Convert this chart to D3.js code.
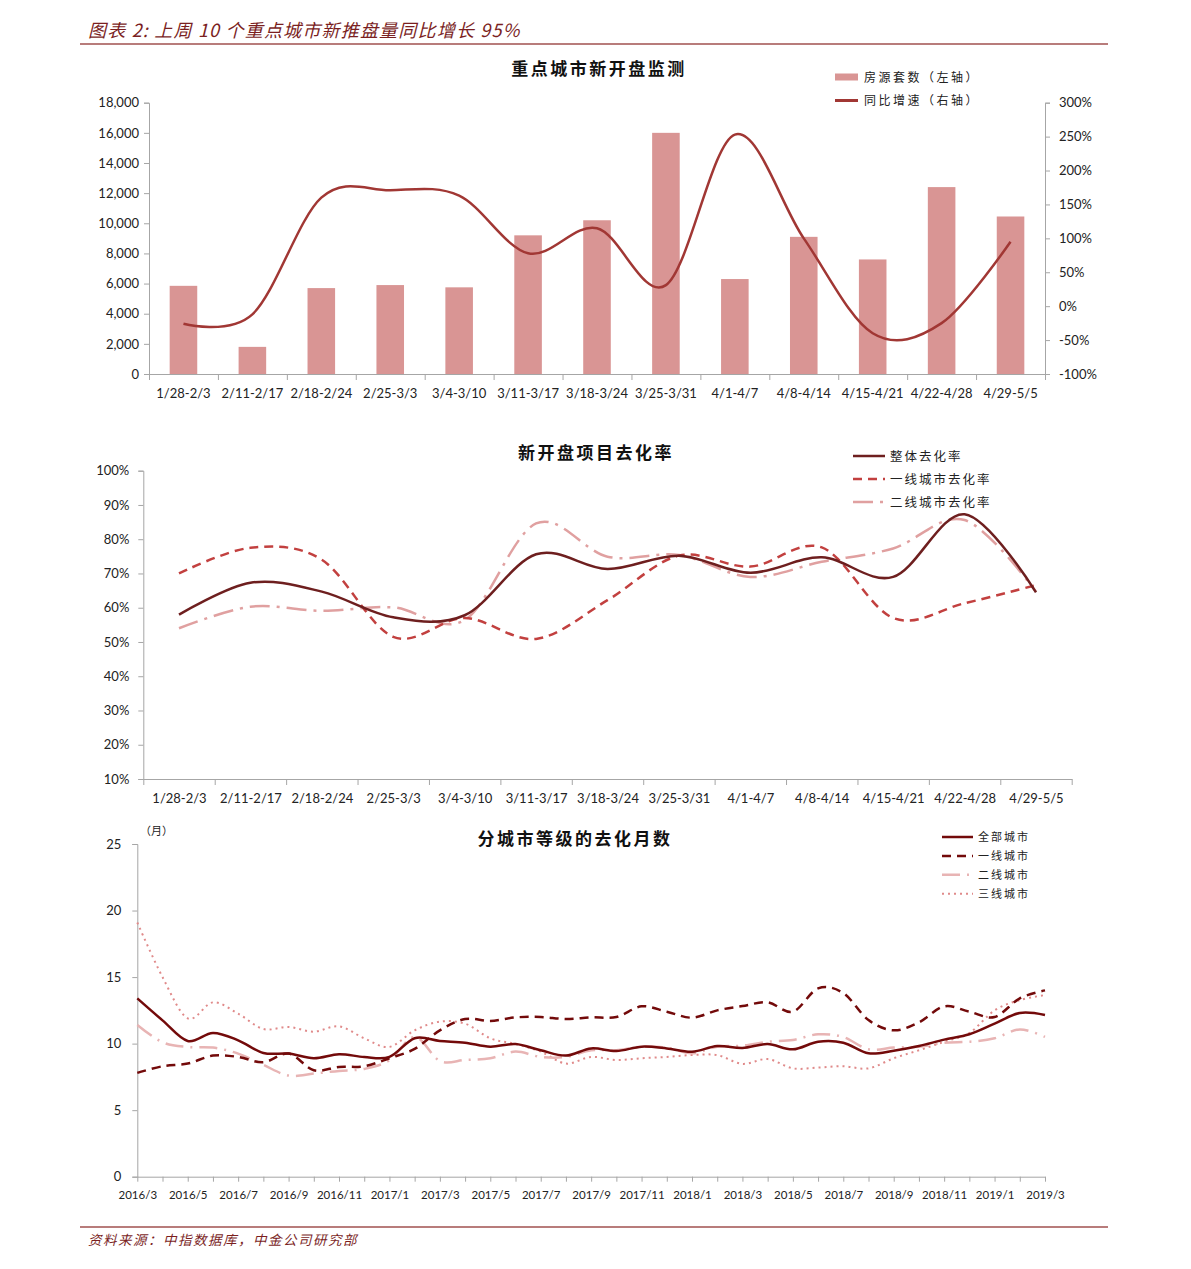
<!DOCTYPE html>
<html>
<head>
<meta charset="utf-8">
<script src="https://cdn.jsdelivr.net/npm/d3@7"></script>
<style>
  body { margin: 0; background: #fff; }
  svg text { font-family: Lato, "Noto Sans CJK SC", sans-serif; }
  .cjk { font-family: "Noto Sans CJK SC", sans-serif !important; }
  .axis path, .axis line { stroke: #a6a6a6; }
  .axis text { fill: #222; }
</style>
</head>
<body>
<svg id="chart" width="1191" height="1269"></svg>
<script>
// chart 1: new supply in key cities
var weeks = ['1/28-2/3','2/11-2/17','2/18-2/24','2/25-3/3','3/4-3/10','3/11-3/17','3/18-3/24',
             '3/25-3/31','4/1-4/7','4/8-4/14','4/15-4/21','4/22-4/28','4/29-5/5'];
var supply = [5850, 1800, 5700, 5900, 5750, 9200, 10200, 16000, 6300, 9100, 7600, 12400, 10450];
var yoy = [-26, -12, 160, 171, 163, 78, 115, 31, 253, 100, -40, -25, 95];

// chart 2: sell-through rate of new projects (%)
var rateAll = [58, 67.3, 64.7, 57.2, 57.8, 75.6, 71.3, 75.2, 70.2, 74.7, 69, 87.3, 64.5];
var rateT1  = [70, 77.5, 74, 51.5, 57, 50.9, 62.2, 75.2, 72, 77.6, 57, 61.3, 66.6];
var rateT2  = [54, 60.3, 59.1, 60.1, 56.4, 84.6, 74.9, 75.4, 69, 73.4, 77.3, 85.6, 64.7];

// chart 3: months of inventory by city tier
var months = ['2016/3','2016/4','2016/5','2016/6','2016/7','2016/8','2016/9','2016/10','2016/11','2016/12',
              '2017/1','2017/2','2017/3','2017/4','2017/5','2017/6','2017/7','2017/8','2017/9','2017/10',
              '2017/11','2017/12','2018/1','2018/2','2018/3','2018/4','2018/5','2018/6','2018/7','2018/8',
              '2018/9','2018/10','2018/11','2018/12','2019/1','2019/2','2019/3'];
var moAll = [13.4, 11.75, 10.2, 10.8, 10.25, 9.3, 9.25, 8.9, 9.2, 9.0, 9.0, 10.4, 10.2,
             10.07, 9.77, 9.97, 9.5, 9.1, 9.64, 9.44, 9.77, 9.64, 9.39, 9.82, 9.68,
             9.97, 9.57, 10.14, 10.07, 9.27, 9.47, 9.82, 10.3, 10.7, 11.5, 12.3, 12.15];
var moT1  = [7.8, 8.3, 8.5, 9.1, 9.0, 8.6, 9.25, 8.0, 8.25, 8.3, 8.9, 9.6, 11.0,
             11.85, 11.7, 11.97, 12.0, 11.85, 11.97, 12.0, 12.8, 12.4, 11.95, 12.5, 12.82,
             13.1, 12.4, 14.15, 13.8, 11.77, 11.0, 11.6, 12.8, 12.4, 12.0, 13.4, 14.0];
var moT2  = [11.4, 10.1, 9.75, 9.7, 9.25, 8.4, 7.6, 7.75, 7.95, 8.1, 8.75, 10.5, 8.7,
             8.77, 8.9, 9.4, 9.0, 9.0, 9.5, 9.5, 9.77, 9.7, 9.27, 9.77, 9.85,
             10.14, 10.27, 10.7, 10.5, 9.57, 9.7, 9.77, 10.07, 10.14, 10.4, 11.07, 10.5];
var moT3  = [19.1, 15.0, 11.9, 13.1, 12.25, 11.1, 11.25, 10.9, 11.3, 10.4, 9.75, 11.0, 11.65,
             11.5, 10.4, 9.97, 9.4, 8.5, 9.0, 8.77, 8.9, 9.0, 9.14, 9.14, 8.48,
             8.84, 8.14, 8.2, 8.3, 8.14, 8.9, 9.5, 10.14, 10.8, 12.5, 13.27, 13.65];

var svg = d3.select('#chart');
var smooth = d3.curveCatmullRom.alpha(0);

// page header and footer
svg.append('text').attr('class', 'cjk').attr('x', 88).attr('y', 37)
  .attr('font-size', 18).attr('font-style', 'italic').attr('fill', '#7b1f1f')
  .attr('letter-spacing', 1.2)
  .text('图表 2:  上周 10 个重点城市新推盘量同比增长 95%');
svg.append('line').attr('x1', 80).attr('x2', 1108).attr('y1', 44).attr('y2', 44)
  .attr('stroke', '#a0504f').attr('stroke-width', 1.5);
svg.append('line').attr('x1', 80).attr('x2', 1108).attr('y1', 1227).attr('y2', 1227)
  .attr('stroke', '#a0504f').attr('stroke-width', 1.5);
svg.append('text').attr('class', 'cjk').attr('x', 88).attr('y', 1245)
  .attr('font-size', 13.5).attr('font-style', 'italic').attr('fill', '#7b1f1f')
  .attr('letter-spacing', 1.5)
  .text('资料来源：中指数据库，中金公司研究部');

function title(txt, cx, y) {
  svg.append('text').attr('class', 'cjk').attr('x', cx).attr('y', y)
    .attr('text-anchor', 'middle').attr('font-size', 17).attr('font-weight', 'bold')
    .attr('letter-spacing', 2.5).attr('fill', '#111').text(txt);
}

function styleAxis(g, size) {
  g.attr('class', 'axis').selectAll('text').attr('font-size', size);
}

// ---------- chart 1 ----------
var c1 = {left: 149, right: 1045, top: 102.7, bottom: 374};
var x1 = d3.scaleBand().domain(weeks).range([c1.left, c1.right]).paddingInner(0.6).paddingOuter(0.3);
var y1 = d3.scaleLinear().domain([0, 18000]).range([c1.bottom, c1.top]);
var y1r = d3.scaleLinear().domain([-100, 300]).range([c1.bottom, c1.top]);

title('重点城市新开盘监测', 599, 75);

svg.append('g').attr('transform', 'translate(' + c1.left + ',0)')
  .call(d3.axisLeft(y1).tickValues(d3.range(0, 18001, 2000)).tickFormat(d3.format(',')).tickSize(5).tickPadding(5))
  .call(styleAxis, 13);
svg.append('g').attr('transform', 'translate(' + c1.right + ',0)')
  .call(d3.axisRight(y1r).tickValues(d3.range(-100, 301, 50)).tickFormat(function(d) { return d + '%'; }).tickSize(5).tickPadding(9))
  .call(styleAxis, 13);

svg.selectAll('.bar1').data(supply).enter().append('rect')
  .attr('x', function(d, i) { return x1(weeks[i]); })
  .attr('y', function(d) { return y1(d); })
  .attr('width', x1.bandwidth())
  .attr('height', function(d) { return y1(0) - y1(d); })
  .attr('fill', '#d99594');

var xb1 = d3.scaleLinear().domain([0, weeks.length]).range([c1.left, c1.right]);
svg.append('g').attr('transform', 'translate(0,' + c1.bottom + ')')
  .call(d3.axisBottom(xb1).tickValues(d3.range(weeks.length + 1)).tickFormat('').tickSize(6).tickSizeOuter(0))
  .call(styleAxis, 13);
svg.append('g').attr('transform', 'translate(0,' + c1.bottom + ')')
  .call(d3.axisBottom(x1).tickSize(0).tickPadding(15))
  .call(styleAxis, 13)
  .select('.domain').remove();

svg.append('path').datum(yoy)
  .attr('fill', 'none').attr('stroke', '#a13734').attr('stroke-width', 2.5)
  .attr('d', d3.line()
    .x(function(d, i) { return x1(weeks[i]) + x1.bandwidth() / 2; })
    .y(function(d) { return y1r(d); })
    .curve(smooth));

// legend 1
svg.append('rect').attr('x', 835).attr('y', 73.5).attr('width', 23).attr('height', 7).attr('fill', '#d99594');
svg.append('text').attr('class', 'cjk').attr('x', 864).attr('y', 81.5).attr('font-size', 12)
  .attr('letter-spacing', 2.5).attr('fill', '#222').text('房源套数（左轴）');
svg.append('line').attr('x1', 835).attr('x2', 858).attr('y1', 100.5).attr('y2', 100.5)
  .attr('stroke', '#a13734').attr('stroke-width', 3);
svg.append('text').attr('class', 'cjk').attr('x', 864).attr('y', 105).attr('font-size', 12)
  .attr('letter-spacing', 2.5).attr('fill', '#222').text('同比增速（右轴）');

// ---------- chart 2 ----------
var c2 = {left: 143.3, right: 1071.7, top: 470.7, bottom: 779};
var x2 = d3.scalePoint().domain(weeks).range([c2.left, c2.right]).padding(0.5);
var y2 = d3.scaleLinear().domain([10, 100]).range([c2.bottom, c2.top]);

title('新开盘项目去化率', 596, 459);

svg.append('g').attr('transform', 'translate(' + c2.left + ',0)')
  .call(d3.axisLeft(y2).tickValues(d3.range(10, 101, 10)).tickFormat(function(d) { return d + '%'; }).tickSize(5).tickPadding(9))
  .call(styleAxis, 13);
var xb2 = d3.scaleLinear().domain([0, weeks.length]).range([c2.left, c2.right]);
svg.append('g').attr('transform', 'translate(0,' + c2.bottom + ')')
  .call(d3.axisBottom(xb2).tickValues(d3.range(weeks.length + 1)).tickFormat('').tickSize(6).tickSizeOuter(0))
  .call(styleAxis, 13);
svg.append('g').attr('transform', 'translate(0,' + c2.bottom + ')')
  .call(d3.axisBottom(x2).tickSize(0).tickPadding(15))
  .call(styleAxis, 13)
  .select('.domain').remove();

var series2 = [
  {name: '整体去化率', values: rateAll, color: '#6e1f1f', dash: null, width: 2.5},
  {name: '一线城市去化率', values: rateT1, color: '#c2403f', dash: '9,6', width: 2.5},
  {name: '二线城市去化率', values: rateT2, color: '#e0a0a0', dash: '20,7,3,7', width: 2.5}
];
var line2 = d3.line()
  .x(function(d, i) { return x2(weeks[i]); })
  .y(function(d) { return y2(d); })
  .curve(smooth);
series2.slice().reverse().forEach(function(s) {
  svg.append('path').datum(s.values)
    .attr('fill', 'none').attr('stroke', s.color).attr('stroke-width', s.width)
    .attr('stroke-dasharray', s.dash).attr('d', line2);
});
series2.forEach(function(s, i) {
  var ly = 456 + i * 23;
  svg.append('line').attr('x1', 853).attr('x2', 885).attr('y1', ly).attr('y2', ly)
    .attr('stroke', s.color).attr('stroke-width', s.width).attr('stroke-dasharray', s.dash);
  svg.append('text').attr('class', 'cjk').attr('x', 890).attr('y', ly + 4.5).attr('font-size', 12.5)
    .attr('letter-spacing', 2).attr('fill', '#222').text(s.name);
});

// ---------- chart 3 ----------
var c3 = {left: 137.3, right: 1045, top: 844, bottom: 1176.7};
var x3 = d3.scalePoint().domain(months).range([c3.left, c3.right]);
var y3 = d3.scaleLinear().domain([0, 25]).range([c3.bottom, c3.top]);

title('分城市等级的去化月数', 575, 845);
svg.append('text').attr('class', 'cjk').attr('x', 140).attr('y', 835).attr('font-size', 11)
  .attr('fill', '#222').text('（月）');

svg.append('g').attr('transform', 'translate(' + c3.left + ',0)')
  .call(d3.axisLeft(y3).tickValues(d3.range(0, 26, 5)).tickSize(5).tickPadding(11))
  .call(styleAxis, 13);
svg.append('g').attr('transform', 'translate(0,' + c3.bottom + ')')
  .call(d3.axisBottom(x3).tickSize(5).tickSizeOuter(0).tickPadding(9)
    .tickFormat(function(d, i) { return i % 2 === 0 ? d : ''; }))
  .call(styleAxis, 11.5);

var series3 = [
  {name: '全部城市', values: moAll, color: '#730a0a', dash: null, width: 2.5},
  {name: '一线城市', values: moT1, color: '#730a0a', dash: '9,6', width: 2.5},
  {name: '二线城市', values: moT2, color: '#e8b4b4', dash: '18,7,2,7', width: 2.5},
  {name: '三线城市', values: moT3, color: '#e08a8a', dash: '2,4', width: 2}
];
var line3 = d3.line()
  .x(function(d, i) { return x3(months[i]); })
  .y(function(d) { return y3(d); })
  .curve(smooth);
series3.slice().reverse().forEach(function(s) {
  svg.append('path').datum(s.values)
    .attr('fill', 'none').attr('stroke', s.color).attr('stroke-width', s.width)
    .attr('stroke-dasharray', s.dash).attr('d', line3);
});
series3.forEach(function(s, i) {
  var ly = 837 + i * 18.9;
  svg.append('line').attr('x1', 942).attr('x2', 973).attr('y1', ly).attr('y2', ly)
    .attr('stroke', s.color).attr('stroke-width', s.width).attr('stroke-dasharray', s.dash);
  svg.append('text').attr('class', 'cjk').attr('x', 978).attr('y', ly + 4).attr('font-size', 11)
    .attr('letter-spacing', 2).attr('fill', '#222').text(s.name);
});
</script>
</body>
</html>
